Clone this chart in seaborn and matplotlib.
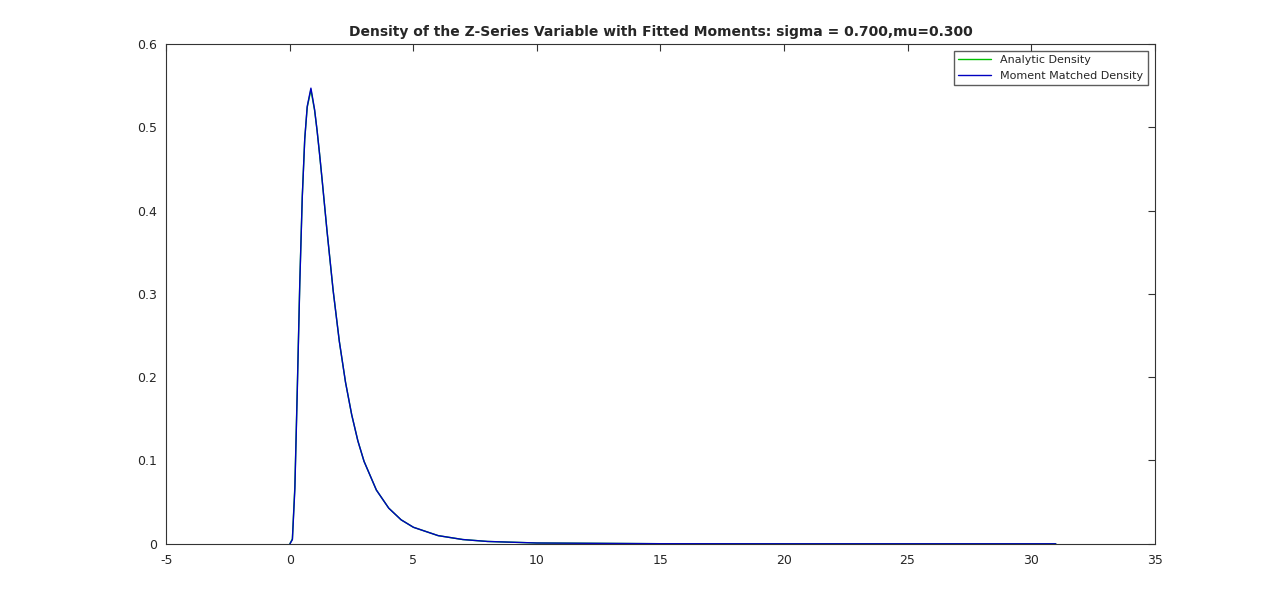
import matplotlib
matplotlib.use("Agg")
import matplotlib.pyplot as plt
import seaborn as sns
import pandas as pd

x_vals = [0, 0.1, 0.2, 0.3, 0.4, 0.5, 0.6, 0.7, 0.85, 1.0, 1.1, 1.2, 1.3, 1.5, 1.75, 2, 2.25, 2.5, 2.75, 3, 3.5, 4, 4.5, 5, 6, 7, 8, 10, 15, 20, 31]
analytic = [0, 0.006, 0.069, 0.189, 0.315, 0.417, 0.486, 0.524, 0.545, 0.520, 0.496, 0.468, 0.438, 0.376, 0.304, 0.243, 0.194, 0.155, 0.1236, 0.099, 0.0645, 0.0428, 0.0288, 0.0198, 0.0098, 0.0051, 0.0028, 0.00095, 0.0001, 0, 0]
matched = [0, 0.005, 0.066, 0.186, 0.313, 0.416, 0.486, 0.525, 0.547, 0.521, 0.496, 0.468, 0.438, 0.376, 0.304, 0.243, 0.194, 0.155, 0.1236, 0.099, 0.0645, 0.0428, 0.0288, 0.0198, 0.0098, 0.0051, 0.0028, 0.00095, 0.0001, 0, 0]

df = pd.DataFrame({"x": x_vals, "Analytic Density": analytic, "Moment Matched Density": matched})

sns.set_style("white")
plt.rcParams["axes.unicode_minus"] = False
fig = plt.figure(figsize=(12.8, 6.11), dpi=100)
ax = fig.add_axes([0.130, 0.110, 0.772, 0.818])
sns.lineplot(data=df, x="x", y="Analytic Density", color="#00c000", lw=1, ax=ax, label="Analytic Density")
sns.lineplot(data=df, x="x", y="Moment Matched Density", color="#0000c0", lw=1, ax=ax, label="Moment Matched Density")
ax.set_xlim(-5, 35)
ax.set_ylim(0, 0.6)
ax.set_xticks(range(-5, 36, 5))
ax.set_yticks([0, 0.1, 0.2, 0.3, 0.4, 0.5, 0.6])
ax.set_yticklabels(["0", "0.1", "0.2", "0.3", "0.4", "0.5", "0.6"])
ax.set_xlabel("")
ax.set_ylabel("")
ax.tick_params(direction="in", top=True, right=True, labelsize=9, length=5, color="#333333", pad=7)
for s in ax.spines.values():
    s.set_color("#333333")
    s.set_linewidth(0.8)
ax.set_title("Density of the Z-Series Variable with Fitted Moments: sigma = 0.700,mu=0.300",
             fontsize=10, fontweight="bold")
leg = ax.legend(loc="upper right", fontsize=8, frameon=True, fancybox=False, edgecolor="#333333",
                borderaxespad=0.6, handlelength=3)
fig.savefig("out.png", dpi=100)
